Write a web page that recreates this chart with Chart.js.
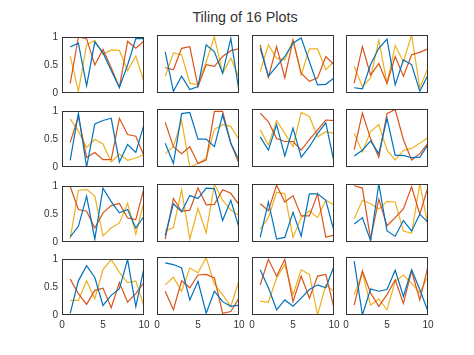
<!DOCTYPE html>
<html><head><meta charset="utf-8">
<script src="https://cdn.jsdelivr.net/npm/chart.js@4"></script>
<style>
html,body{margin:0;padding:0;background:#fff;width:474px;height:355px;overflow:hidden;position:relative}
#title{position:absolute;left:145px;width:200px;top:9px;line-height:16px;text-align:center;font-family:"Liberation Sans",Arial,sans-serif;font-size:14.3px;color:#333333;white-space:nowrap}
canvas{position:absolute}
</style></head><body>
<div id="title">Tiling of 16 Plots</div>
<script>
const categories = [1,2,3,4,5,6,7,8,9,10];
const xTicks = [0,5,10];
const yTicks = [0,0.5,1];
const seriesColors = ['#0072BD','#D95319','#EDB120'];

// blue series, one row per tile (row-major)
const blueSeries = [
 [0.82,0.89,0.13,0.91,0.72,0.40,0.10,0.50,0.97,0.97],
 [0.71,0.03,0.29,0.06,0.11,0.83,0.71,0.34,0.94,0.03],
 [0.77,0.29,0.46,0.63,0.86,0.95,0.54,0.14,0.15,0.26],
 [0.09,0.07,0.49,0.77,0.93,0.14,0.57,0.49,0.03,0.31],
 [0.12,0.96,0.00,0.77,0.83,0.87,0.09,0.40,0.26,0.76],
 [0.41,0.06,0.92,0.94,0.48,0.48,0.35,0.90,0.41,0.12],
 [0.52,0.29,0.73,0.19,0.67,0.17,0.35,0.58,0.76,0.09],
 [0.19,0.29,0.45,0.23,0.84,0.20,0.20,0.16,0.17,0.38],
 [0.09,0.28,0.82,0.05,0.96,0.72,0.52,0.58,0.25,0.46],
 [0.11,0.66,0.52,0.80,0.75,0.93,0.92,0.37,0.72,0.25],
 [0.08,0.69,0.05,0.08,0.51,0.10,0.83,0.83,0.72,0.19],
 [0.31,0.42,0.02,1.00,0.19,0.10,0.37,0.19,0.48,0.34],
 [0.03,0.61,0.88,0.67,0.17,0.35,0.47,0.99,0.15,0.84],
 [0.90,0.87,0.81,0.26,0.58,0.03,0.41,0.23,0.15,0.17],
 [0.78,0.47,0.09,0.26,0.15,0.29,0.44,0.52,0.47,0.84],
 [0.93,0.00,0.45,0.41,0.44,0.77,0.32,0.78,0.44,0.06]
];
// orange series
const orangeSeries = [
 [0.17,1.00,0.97,0.50,0.78,0.45,0.10,0.92,0.80,0.93],
 [0.44,0.40,0.77,0.80,0.11,0.49,0.46,0.63,0.73,0.76],
 [0.83,0.27,0.80,0.26,0.91,0.34,0.20,0.26,0.63,0.49],
 [0.17,0.80,0.31,0.51,0.17,0.63,0.29,0.66,0.70,0.76],
 [0.44,0.90,0.17,0.26,0.13,0.13,0.87,0.58,0.55,0.20],
 [0.77,0.35,0.23,0.35,0.06,0.12,0.96,0.96,0.41,0.06],
 [0.93,0.78,0.49,0.44,0.44,0.29,0.47,0.64,0.81,0.80],
 [0.30,0.93,0.49,0.17,0.92,0.99,0.47,0.12,0.23,0.41],
 [0.99,0.58,0.55,0.25,0.52,0.65,0.69,0.43,0.40,0.96],
 [0.05,0.75,0.53,0.55,0.93,0.64,0.65,0.90,0.84,0.64],
 [0.66,0.54,0.98,0.69,0.80,0.45,0.45,0.83,0.08,0.12],
 [0.97,0.93,0.05,0.74,0.28,0.42,0.57,0.95,0.48,0.95],
 [0.64,0.38,0.19,0.44,0.48,0.13,0.58,0.23,0.38,0.58],
 [0.41,0.09,0.59,0.47,0.69,0.70,0.64,0.03,0.06,0.29],
 [0.52,0.96,0.67,0.96,0.23,0.67,0.29,0.67,0.70,0.12],
 [0.17,0.76,0.38,0.15,0.35,0.61,0.20,0.76,0.26,0.84]
];
// yellow series
const yellowSeries = [
 [0.66,0.03,0.86,0.94,0.69,0.77,0.76,0.40,0.66,0.20],
 [0.29,0.69,0.66,0.17,0.14,0.54,0.97,0.34,0.60,0.26],
 [0.37,0.83,0.60,0.57,0.91,0.31,0.76,0.76,0.40,0.54],
 [0.46,0.11,0.26,0.91,0.17,0.82,0.54,1.00,0.09,0.43],
 [0.86,0.64,0.35,0.49,0.41,0.09,0.23,0.12,0.16,0.22],
 [0.23,0.35,0.80,0.00,0.06,0.15,0.65,0.73,0.70,0.47],
 [0.64,0.38,0.80,0.58,0.35,0.94,0.87,0.52,0.61,0.58],
 [0.58,0.26,0.61,0.73,0.29,0.12,0.29,0.32,0.41,0.51],
 [0.06,0.92,0.94,0.82,0.11,0.25,0.34,0.69,0.14,0.72],
 [0.19,0.25,0.90,0.05,0.58,0.16,1.00,0.72,0.55,0.46],
 [0.22,0.42,0.86,0.83,0.08,0.42,0.54,0.42,0.72,0.64],
 [0.40,0.72,0.66,0.57,0.70,0.69,0.19,0.15,1.00,0.28],
 [0.26,0.26,0.61,0.29,0.81,0.99,0.76,0.58,0.61,0.15],
 [0.52,0.65,0.41,0.81,0.73,0.99,0.53,0.35,0.15,0.59],
 [0.24,0.22,0.64,0.87,0.35,0.78,0.70,0.00,0.52,0.41],
 [0.35,0.73,0.17,0.28,0.09,0.58,0.69,0.55,0.38,0.67]
];

const colLefts = [62,157,252,346];
const rowTops = [35,109,184,257];
const AW = 82, AH = 58;
const PL = 30, PT = 8, PR = 10, PB = 20;
const FONT = {family:'"Liberation Sans", Arial, sans-serif', size:10};
const TXT = '#333333';

const boxPlugin = {
  id:'box',
  afterDraw(chart){
    const a = chart.chartArea, ctx = chart.ctx;
    ctx.save();
    ctx.strokeStyle = '#333333';
    ctx.lineWidth = 1;
    ctx.strokeRect(a.left+0.5, a.top+0.5, a.right-a.left-1, a.bottom-a.top-1);
    ctx.restore();
  }
};

for (let r=0;r<4;r++){
  for (let c=0;c<4;c++){
    const i = r*4+c;
    const cv = document.createElement('canvas');
    cv.width = PL+AW+PR; cv.height = PT+AH+PB;
    cv.style.left = (colLefts[c]-PL)+'px';
    cv.style.top = (rowTops[r]-PT)+'px';
    cv.style.width = cv.width+'px'; cv.style.height = cv.height+'px';
    document.body.appendChild(cv);
    const sets = [blueSeries[i], orangeSeries[i], yellowSeries[i]].map((vals,k)=>({
      data: categories.map((x,j)=>({x:x, y:vals[j]})),
      borderColor: seriesColors[k],
      borderWidth: 1.2,
      pointRadius: 0,
      tension: 0,
      fill: false
    }));
    new Chart(cv, {
      type:'line',
      data:{datasets:sets},
      plugins:[boxPlugin],
      options:{
        responsive:false, animation:false, devicePixelRatio:1,
        layout:{padding:{left:0, top:PT, right:PR, bottom:0}},
        plugins:{legend:{display:false}, tooltip:{enabled:false}, title:{display:false}},
        scales:{
          x:{type:'linear', min:0, max:10,
             afterBuildTicks:s=>{s.ticks = xTicks.map(v=>({value:v}));},
             afterFit:s=>{s.height = PB;},
             grid:{display:false, drawTicks:false}, border:{display:false},
             ticks:{display: r===3, padding:4, color:TXT, font:FONT, maxRotation:0, autoSkip:false,
                    callback:v=>String(v)}},
          y:{type:'linear', min:0, max:1,
             afterBuildTicks:s=>{s.ticks = yTicks.map(v=>({value:v}));},
             afterFit:s=>{s.width = PL;},
             grid:{display:false, drawTicks:false}, border:{display:false},
             ticks:{display: c===0, padding:4, color:TXT, font:FONT, autoSkip:false,
                    callback:v=>String(v)}}
        }
      }
    });
  }
}
</script>
</body></html>
